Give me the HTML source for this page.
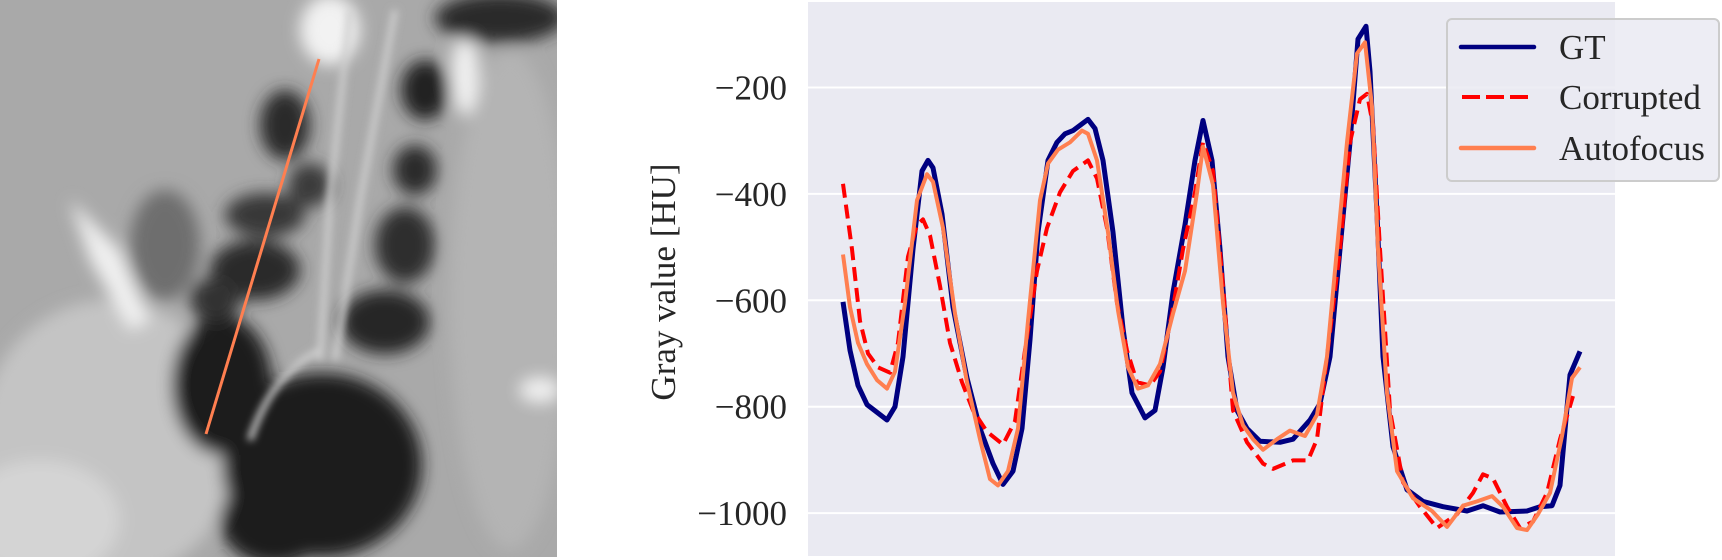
<!DOCTYPE html>
<html><head><meta charset="utf-8">
<style>
html,body{margin:0;padding:0;background:#fff;}
body{width:1722px;height:560px;overflow:hidden;position:relative;font-family:"Liberation Serif",serif;}
svg{position:absolute;left:0;top:0;}
</style></head>
<body>
<svg width="1722" height="560" viewBox="0 0 1722 560">
  <defs>
    <filter id="blur8" x="-50%" y="-50%" width="200%" height="200%"><feGaussianBlur stdDeviation="8"/></filter>
    <filter id="blur4" x="-50%" y="-50%" width="200%" height="200%"><feGaussianBlur stdDeviation="4"/></filter>
    <clipPath id="imgclip"><rect x="0" y="0" width="557" height="557"/></clipPath>
  </defs>
  <g id="ct-image" clip-path="url(#imgclip)">
    <rect x="0" y="0" width="557" height="557" fill="#a9a9a9"/>
    <g filter="url(#blur8)">
      <ellipse cx="110" cy="440" rx="130" ry="140" fill="#c4c4c4"/>
      <ellipse cx="40" cy="520" rx="80" ry="60" fill="#d4d4d4"/>
      <ellipse cx="510" cy="300" rx="60" ry="250" fill="#b4b4b4"/>
      <path d="M70 200 L120 250 L150 320 L130 330 L90 260 Z" fill="#f0f0f0"/>
      <ellipse cx="330" cy="30" rx="30" ry="35" fill="#f2f2f2"/>
      <ellipse cx="465" cy="75" rx="14" ry="40" fill="#f0f0f0"/>
      <ellipse cx="165" cy="245" rx="35" ry="55" fill="#6e6e6e"/>
      <ellipse cx="500" cy="18" rx="65" ry="25" fill="#2a2a2a"/>
      <ellipse cx="322" cy="465" rx="100" ry="92" fill="#1c1c1c"/>
      <ellipse cx="275" cy="520" rx="55" ry="45" fill="#1c1c1c"/>
      <ellipse cx="222" cy="385" rx="50" ry="70" fill="#1f1f1f"/>
      <ellipse cx="255" cy="270" rx="45" ry="30" fill="#2c2c2c"/>
      <ellipse cx="215" cy="300" rx="25" ry="22" fill="#333"/>
      <ellipse cx="265" cy="215" rx="40" ry="22" fill="#383838"/>
      <ellipse cx="285" cy="125" rx="25" ry="35" fill="#2a2a2a"/>
      <ellipse cx="310" cy="185" rx="22" ry="22" fill="#3a3a3a"/>
      <ellipse cx="425" cy="90" rx="24" ry="30" fill="#222"/>
      <ellipse cx="415" cy="170" rx="22" ry="25" fill="#2a2a2a"/>
      <ellipse cx="405" cy="245" rx="30" ry="38" fill="#2e2e2e"/>
      <ellipse cx="385" cy="322" rx="45" ry="32" fill="#262626"/>
      <ellipse cx="540" cy="390" rx="20" ry="12" fill="#f0f0f0"/>
    </g>
    <g filter="url(#blur4)" fill="none" stroke="#cfcfcf" stroke-width="6">
      <path d="M350 10 L330 200 L320 360"/>
      <path d="M395 10 L360 200 L335 360"/>
      <path d="M250 440 C 270 380, 300 360, 320 350"/>
    </g>
    <line x1="319" y1="59" x2="206" y2="434" stroke="#ff7f50" stroke-width="3"/>
  </g>
  <rect x="808" y="2" width="807" height="554" fill="#eaeaf2"/>
  <g id="grid"></g>
  <g id="yticks"></g>
  <text x="675" y="282" font-size="35" fill="#262626" text-anchor="middle" transform="rotate(-90 675 282)">Gray value [HU]</text>
  <g id="series"></g>
  <g>
    <rect x="1447" y="19" width="272" height="162" rx="5" fill="#eaeaf2" fill-opacity="0.85" stroke="#cccccc" stroke-width="2"/>
    <g>
      <line x1="1461" y1="47" x2="1534" y2="47" stroke="#000080" stroke-width="4.5" stroke-linecap="round"/>
      <text x="1559" y="59" font-size="35" fill="#262626">GT</text>
    </g>
    <g>
      <line x1="1462" y1="97" x2="1533" y2="97" stroke="#ff0000" stroke-width="4" stroke-dasharray="18,6"/>
      <text x="1559" y="109" font-size="35" fill="#262626">Corrupted</text>
    </g>
    <g>
      <line x1="1461" y1="148" x2="1534" y2="148" stroke="#ff7f50" stroke-width="4.5" stroke-linecap="round"/>
      <text x="1559" y="160" font-size="35" fill="#262626">Autofocus</text>
    </g>
  </g>
</svg>
<script>
const yTicks = [-200, -400, -600, -800, -1000];
const yTickLabels = ["\u2212200", "\u2212400", "\u2212600", "\u2212800", "\u22121000"];
const gtX = [0,7,15,24,44,52,60,70,79,85,90,99,110,124,137,150,160,170,179,187,195,205,214,222,230,245,252,260,270,280,289,302,312,320,330,342,352,360,369,377,385,394,404,417,437,450,467,477,487,497,507,515,523,527,534,540,550,564,580,600,624,640,657,684,697,709,717,727,737];
const gtY = [-603,-694,-760,-796,-825,-800,-706,-504,-357,-337,-351,-438,-613,-746,-841,-907,-946,-921,-841,-674,-472,-337,-303,-287,-281,-260,-277,-337,-472,-653,-774,-821,-807,-726,-585,-458,-337,-262,-337,-504,-706,-807,-841,-865,-867,-861,-825,-794,-706,-504,-303,-109,-85,-170,-438,-706,-875,-956,-978,-988,-996,-986,-998,-996,-988,-986,-948,-740,-696];
const corX = [0,9,17,25,35,47,55,65,74,80,87,97,107,119,130,144,160,172,182,194,204,217,230,245,254,264,274,284,294,307,317,329,340,352,360,370,380,390,404,420,430,450,465,474,484,497,507,517,524,530,537,547,560,577,594,614,630,640,650,664,677,690,704,717,730];
const corY = [-381,-504,-639,-700,-726,-736,-680,-518,-458,-448,-478,-573,-680,-754,-807,-847,-871,-827,-694,-545,-464,-397,-357,-337,-371,-464,-605,-694,-754,-760,-734,-625,-504,-397,-303,-357,-573,-807,-867,-907,-917,-901,-901,-861,-706,-504,-303,-222,-212,-271,-504,-807,-942,-988,-1028,-1002,-962,-927,-935,-988,-1028,-1016,-962,-861,-780];
const afX = [0,7,15,24,34,44,52,62,74,84,90,100,112,124,137,147,155,165,175,185,197,205,215,227,239,245,254,265,275,285,295,305,317,330,342,354,360,370,380,390,400,410,420,434,447,462,474,484,494,504,514,522,529,535,544,554,570,589,604,620,634,649,660,674,684,695,707,719,729,737];
const afY = [-514,-613,-680,-720,-750,-766,-734,-605,-412,-363,-377,-464,-625,-754,-861,-936,-948,-921,-841,-639,-412,-343,-317,-303,-281,-287,-337,-472,-619,-726,-766,-760,-720,-625,-545,-397,-311,-383,-605,-774,-835,-861,-881,-861,-845,-855,-815,-706,-504,-303,-136,-115,-236,-504,-774,-921,-972,-996,-1026,-986,-978,-968,-988,-1028,-1032,-1002,-962,-855,-746,-726];

const NS = "http://www.w3.org/2000/svg";
function xS(v){ return 843 + v; }
function yS(v){ return 87.5 + (-200 - v) * 0.532; }

const grid = document.getElementById('grid');
const yt = document.getElementById('yticks');
yTicks.forEach((t, i) => {
  const l = document.createElementNS(NS, 'line');
  l.setAttribute('x1', 808); l.setAttribute('x2', 1615);
  l.setAttribute('y1', yS(t)); l.setAttribute('y2', yS(t));
  l.setAttribute('stroke', '#ffffff'); l.setAttribute('stroke-width', '2');
  
  
  grid.appendChild(l);
  const tx = document.createElementNS(NS, 'text');
  tx.setAttribute('x', 787); tx.setAttribute('y', yS(t) + 12);
  tx.setAttribute('text-anchor', 'end'); tx.setAttribute('font-size', '35');
  tx.setAttribute('fill', '#262626');
  tx.textContent = yTickLabels[i];
  
  
  yt.appendChild(tx);
});

const series = document.getElementById('series');
function drawLine(xs, ys, color, width, dash, name){
  const p = document.createElementNS(NS, 'path');
  let d = '';
  xs.forEach((x, i) => { d += (i ? 'L' : 'M') + xS(x).toFixed(1) + ' ' + yS(ys[i]).toFixed(1) + ' '; });
  p.setAttribute('d', d);
  p.setAttribute('fill', 'none');
  p.setAttribute('stroke', color);
  p.setAttribute('stroke-width', width);
  p.setAttribute('stroke-linejoin', 'round');
  if (dash) p.setAttribute('stroke-dasharray', dash);
  
  
  series.appendChild(p);
}
drawLine(gtX, gtY, '#000080', 5, null, 'gt-line');
drawLine(corX, corY, '#ff0000', 4, '14,7', 'corrupted-line');
drawLine(afX, afY, '#ff7f50', 4, null, 'autofocus-line');
</script>
</body></html>
